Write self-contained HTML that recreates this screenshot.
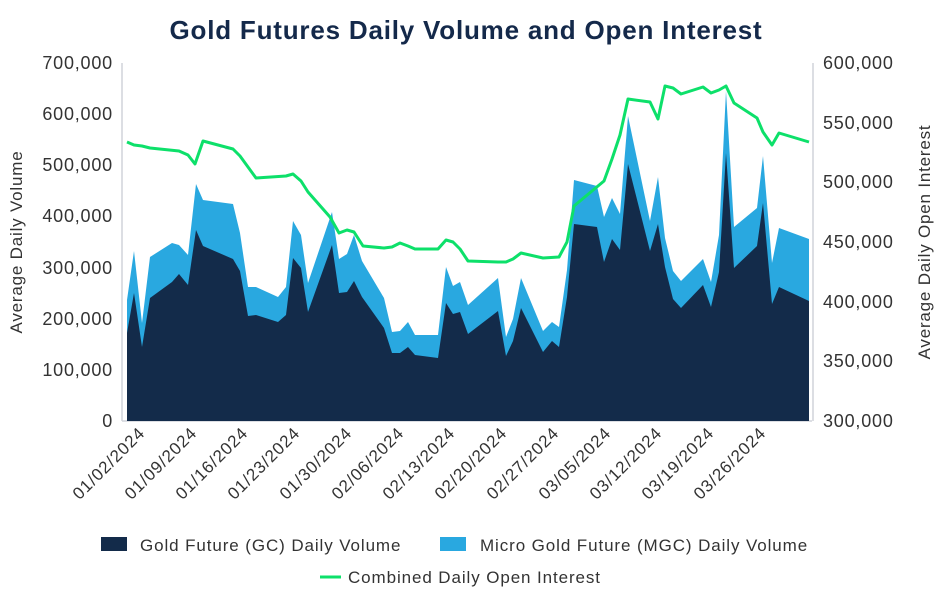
<!DOCTYPE html>
<html><head><meta charset="utf-8"><style>
body{margin:0;background:#fff;}
svg{display:block;font-family:"Liberation Sans",sans-serif;}
</style></head><body>
<svg width="940" height="600" viewBox="0 0 940 600">
<text x="466" y="39" text-anchor="middle" font-size="26" font-weight="bold" fill="#14294a" letter-spacing="0.8">Gold Futures Daily Volume and Open Interest</text>
<g stroke="#d0d4da" stroke-width="1.5">
<line x1="122" y1="63" x2="122" y2="421"/><line x1="122" y1="421" x2="812" y2="421"/><line x1="813" y1="63" x2="813" y2="421"/>
</g>
<polygon fill="#29a8e0" points="127,421 127,300 134,251 142,323 150,257 172,243 179,245 188,255 196,184 203,200 233,204 240,233 248,287 256,287 278,297 286,287 293,221 301,235 308,283 332,212 339,259 347,254 354,235 362,261 384,298 392,332 400,331 408,322 415,335 438,335 446,267 453,286 460,282 468,305 498,278 506,337 513,319 521,278 543,331 552,322 559,327 567,270 574,180 597,186 604,217 612,198 620,214 628,116 650,221 658,177 665,238 673,271 681,281 703,259 711,282 719,235 726,91 734,227 757,208 763,156 772,263 779,228 809,239 809,421"/>
<polygon fill="#132b4a" points="127,421 127,333 134,293 142,347 150,298 172,282 179,274 188,285 196,230 203,246 233,259 240,271 248,316 256,315 278,322 286,315 293,258 301,268 308,312 332,245 339,293 347,292 354,281 362,297 384,328 392,353 400,353 408,347 415,355 438,358 446,303 453,314 460,312 468,334 498,311 506,356 513,341 521,308 543,352 552,341 559,347 567,297 574,224 597,227 604,262 612,239 620,250 628,164 650,251 658,224 665,267 673,299 681,308 703,285 711,307 719,272 726,153 734,268 757,246 763,203 772,304 779,287 809,301 809,421"/>
<polyline fill="none" stroke="#0de06a" stroke-width="3" stroke-linejoin="round" points="127,142 134,145 142,146 150,148 179,151 188,155 195,164 203,141 233,149 240,156 256,178 286,176 293,174 301,181 308,192 330,217 339,233 347,230 354,232 363,246 384,248 392,247 400,243 408,246 415,249 438,249 446,240 453,242 460,249 468,261 498,262 506,262 513,259 521,253 543,258 559,257 567,242 574,206 604,181 612,159 620,135 628,99 650,102 658,119 665,86 673,88 681,94 703,87 711,93 719,90 726,86 734,103 757,118 763,132 772,145 779,133 809,142"/>
<g font-size="18" fill="#333" text-anchor="end" letter-spacing="0.8">
<text x="113" y="69">700,000</text><text x="113" y="120">600,000</text><text x="113" y="171">500,000</text><text x="113" y="222">400,000</text><text x="113" y="274">300,000</text><text x="113" y="325">200,000</text><text x="113" y="376">100,000</text><text x="113" y="427">0</text>
</g>
<g font-size="18" fill="#333" letter-spacing="0.8">
<text x="823" y="69">600,000</text><text x="823" y="129">550,000</text><text x="823" y="188">500,000</text><text x="823" y="248">450,000</text><text x="823" y="308">400,000</text><text x="823" y="367">350,000</text><text x="823" y="427">300,000</text>
</g>
<text transform="translate(22,242) rotate(-90)" text-anchor="middle" font-size="17" fill="#333" letter-spacing="0.8">Average Daily Volume</text>
<text transform="translate(930,242) rotate(-90)" text-anchor="middle" font-size="17" fill="#333" letter-spacing="0.8">Average Daily Open Interest</text>
<g font-size="17" fill="#333" text-anchor="end" letter-spacing="0.9">
<text transform="translate(146,434) rotate(-45)">01/02/2024</text>
<text transform="translate(198,434) rotate(-45)">01/09/2024</text>
<text transform="translate(249,434) rotate(-45)">01/16/2024</text>
<text transform="translate(301,434) rotate(-45)">01/23/2024</text>
<text transform="translate(353,434) rotate(-45)">01/30/2024</text>
<text transform="translate(405,434) rotate(-45)">02/06/2024</text>
<text transform="translate(456,434) rotate(-45)">02/13/2024</text>
<text transform="translate(508,434) rotate(-45)">02/20/2024</text>
<text transform="translate(560,434) rotate(-45)">02/27/2024</text>
<text transform="translate(612,434) rotate(-45)">03/05/2024</text>
<text transform="translate(663,434) rotate(-45)">03/12/2024</text>
<text transform="translate(715,434) rotate(-45)">03/19/2024</text>
<text transform="translate(767,434) rotate(-45)">03/26/2024</text>
</g>
<rect x="101" y="537" width="26" height="14" fill="#132b4a"/>
<text x="140" y="551" font-size="17" fill="#333" letter-spacing="0.9">Gold Future (GC) Daily Volume</text>
<rect x="440" y="537" width="26" height="14" fill="#29a8e0"/>
<text x="480" y="551" font-size="17" fill="#333" letter-spacing="0.9">Micro Gold Future (MGC) Daily Volume</text>
<line x1="320" y1="577" x2="341" y2="577" stroke="#0de06a" stroke-width="3"/>
<text x="348" y="583" font-size="17" fill="#333" letter-spacing="0.9">Combined Daily Open Interest</text>
</svg>
</body></html>
